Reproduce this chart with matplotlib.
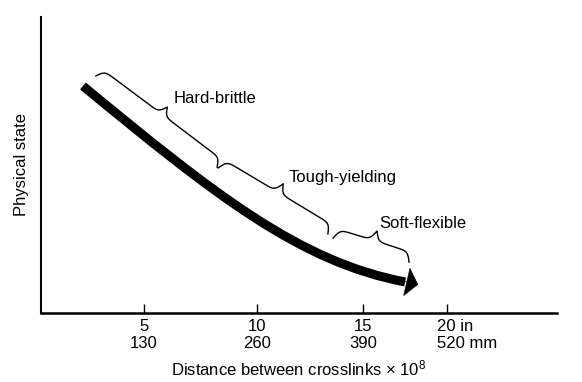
import numpy as np
import matplotlib
matplotlib.use('Agg')
import matplotlib.pyplot as plt
from matplotlib.path import Path
from matplotlib.patches import PathPatch
from matplotlib.transforms import ScaledTranslation

plt.rcParams['font.family'] = ['Liberation Sans', 'DejaVu Sans']
plt.rcParams['mathtext.fontset'] = 'custom'
plt.rcParams['mathtext.rm'] = 'Liberation Sans'

# Schematic curve as a cubic Bezier (x in axis units, y = physical state)
curve_x = [2.03, 8.43, 12.55, 17.64]
curve_y = [7.67, 3.99, 1.72, 1.05]
arrow_tip = (18.27, 0.96)

# Brace ranges: start (x, y) and end (x, y)
brace_start_x = [2.66, 8.58, 14.15]
brace_start_y = [8.01, 4.90, 2.53]
brace_end_x = [8.53, 13.90, 17.83]
brace_end_y = [4.93, 2.67, 1.72]
brace_height = [18, 20, 20]  # px

region_labels = ['Hard-brittle', 'Tough-yielding', 'Soft-flexible']
label_x = [6.44, 12.02, 16.38]
label_y = [7.09, 4.43, 2.87]

tick_pos = [4.99, 10.47, 15.60, 19.67]
tick_labels = ['5\n130', '10\n260', '15\n390', '20 in\n520 mm']

fig = plt.figure(figsize=(5.82, 3.82), dpi=100)
ax = fig.add_axes([41 / 582, (382 - 313) / 382, 516 / 582, 296 / 382])
ax.set_xlim(0, 25)
ax.set_ylim(0, 10)

ax.spines['top'].set_visible(False)
ax.spines['right'].set_visible(False)
ax.spines['left'].set_linewidth(1.5)
ax.spines['bottom'].set_linewidth(1.8)

# thick curve + arrow head
verts = list(zip(curve_x, curve_y))
codes = [Path.MOVETO, Path.CURVE4, Path.CURVE4, Path.CURVE4]
ax.add_patch(PathPatch(Path(verts, codes), fill=False, color='black',
                       lw=6.5, capstyle='butt'))
ax.annotate('', xy=arrow_tip, xytext=(curve_x[-1] - 0.3, curve_y[-1] + 0.06),
            arrowprops=dict(arrowstyle='-|>,head_length=0.8,head_width=1.0',
                            mutation_scale=10, color='black', lw=0.5,
                            shrinkA=0, shrinkB=0))


def draw_brace(ax, p0, p1, h, beta=0.45):
    # build a curly brace in display pixels, then map back to data
    fig.canvas.draw()
    d0 = ax.transData.transform(p0)
    d1 = ax.transData.transform(p1)
    vec = d1 - d0
    L = np.hypot(*vec)
    d = vec / L
    n = np.array([-d[1], d[0]])
    if n[1] < 0:
        n = -n
    npts = 401
    u = np.linspace(0, L, npts)
    half = u[:npts // 2 + 1]
    v_half = (1 / (1 + np.exp(-beta * (half - half[0])))
              + 1 / (1 + np.exp(-beta * (half - half[-1]))))
    v = np.concatenate((v_half, v_half[-2::-1])) - 0.5
    v = h * v
    pts = d0 + np.outer(u, d) + np.outer(v, n)
    data = ax.transData.inverted().transform(pts)
    ax.plot(data[:, 0], data[:, 1], color='black', lw=1.0)


for i in range(3):
    draw_brace(ax, (brace_start_x[i], brace_start_y[i]),
               (brace_end_x[i], brace_end_y[i]), brace_height[i])
    ax.text(label_x[i], label_y[i], region_labels[i], fontsize=12,
            ha='left', va='baseline')

ax.set_yticks([])
ax.set_xticks(tick_pos)
ax.set_xticklabels(tick_labels, fontsize=12)
ax.tick_params(axis='x', direction='in', length=6.5, width=1.0, pad=4)
last = ax.get_xticklabels()[-1]
last.set_horizontalalignment('left')
last.set_transform(last.get_transform() +
                   ScaledTranslation(-10 / 100, 0, fig.dpi_scale_trans))

ax.set_xlabel('Distance between crosslinks × 10$\\mathregular{^8}$', fontsize=12)
ax.xaxis.set_label_coords(0.5, -0.155)
ax.set_ylabel('Physical state', fontsize=12)
ax.yaxis.set_label_coords(-0.024, 0.5)

fig.savefig('out.png', dpi=100)
